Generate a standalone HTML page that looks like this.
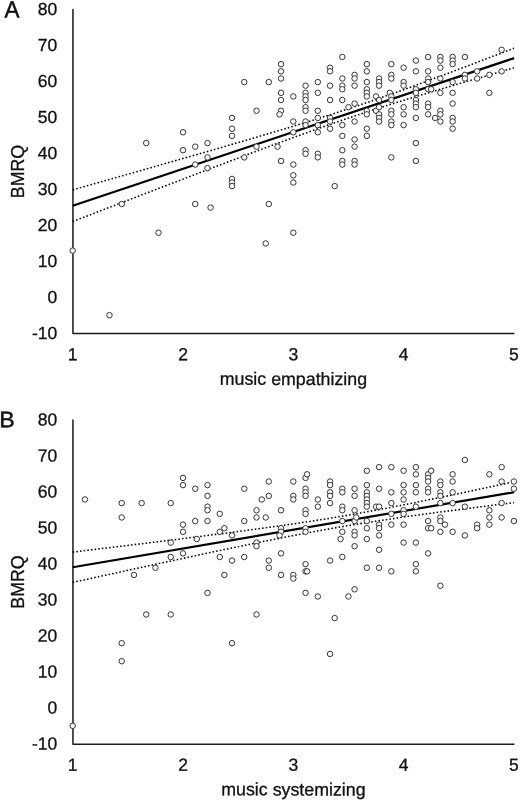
<!DOCTYPE html>
<html><head><meta charset="utf-8"><title>BMRQ scatter plots</title>
<style>
html,body{margin:0;padding:0;background:#fff}
svg{display:block}
.t{font-family:"Liberation Sans",Arial,sans-serif;font-size:17.5px;fill:#111;stroke:#111;stroke-width:0.3}
.L{font-family:"Liberation Sans",Arial,sans-serif;font-size:22.5px;fill:#111;stroke:#111;stroke-width:0.45}
circle{fill:#f9f9f9;stroke:#383838;stroke-width:1}
.s{stroke:#000;stroke-width:2.2;fill:none}
.d{stroke:#000;stroke-width:1.55;fill:none;stroke-dasharray:1.55 2.12}
</style></head><body>
<svg width="520" height="800" viewBox="0 0 520 800">
<rect width="520" height="800" fill="#fff"/>
<path d="M72.95 9.10V333.40H514.4" fill="none" stroke="#1a1a1a" stroke-width="1.5" stroke-linejoin="round"/>
<text transform="translate(57.3 339.10) rotate(0.05)" text-anchor="end" class="t">-10</text>
<text transform="translate(57.3 303.10) rotate(0.05)" text-anchor="end" class="t">0</text>
<text transform="translate(57.3 267.10) rotate(0.05)" text-anchor="end" class="t">10</text>
<text transform="translate(57.3 231.10) rotate(0.05)" text-anchor="end" class="t">20</text>
<text transform="translate(57.3 195.10) rotate(0.05)" text-anchor="end" class="t">30</text>
<text transform="translate(57.3 159.10) rotate(0.05)" text-anchor="end" class="t">40</text>
<text transform="translate(57.3 123.10) rotate(0.05)" text-anchor="end" class="t">50</text>
<text transform="translate(57.3 87.10) rotate(0.05)" text-anchor="end" class="t">60</text>
<text transform="translate(57.3 51.10) rotate(0.05)" text-anchor="end" class="t">70</text>
<text transform="translate(57.3 15.10) rotate(0.05)" text-anchor="end" class="t">80</text>
<text transform="translate(72.70 360.20) rotate(0.05)" text-anchor="middle" class="t">1</text>
<text transform="translate(183.00 360.20) rotate(0.05)" text-anchor="middle" class="t">2</text>
<text transform="translate(293.30 360.20) rotate(0.05)" text-anchor="middle" class="t">3</text>
<text transform="translate(403.60 360.20) rotate(0.05)" text-anchor="middle" class="t">4</text>
<text transform="translate(513.90 360.20) rotate(0.05)" text-anchor="middle" class="t">5</text>
<text transform="translate(293.4 384.90) rotate(0.05)" text-anchor="middle" class="t" style="font-size:17.8px">music empathizing</text>
<text transform="translate(24.2 171.50) rotate(-90)" text-anchor="middle" class="t" style="font-size:17.8px">BMRQ</text>
<text transform="translate(4.4 17.45) rotate(0.05) scale(1 1.05)" class="L">A</text>
<polyline points="72.70 189.87 78.22 188.31 83.73 186.75 89.24 185.18 94.76 183.62 100.28 182.06 105.79 180.49 111.31 178.93 116.82 177.36 122.33 175.80 127.85 174.23 133.37 172.66 138.88 171.09 144.39 169.52 149.91 167.95 155.43 166.38 160.94 164.81 166.46 163.23 171.97 161.66 177.49 160.08 183.00 158.50 188.51 156.92 194.03 155.34 199.54 153.75 205.06 152.17 210.57 150.58 216.09 148.99 221.61 147.39 227.12 145.79 232.63 144.19 238.15 142.59 243.66 140.98 249.18 139.37 254.69 137.75 260.21 136.13 265.73 134.50 271.24 132.86 276.75 131.22 282.27 129.57 287.79 127.91 293.30 126.24 298.81 124.56 304.33 122.87 309.84 121.17 315.36 119.45 320.88 117.72 326.39 115.97 331.90 114.21 337.42 112.43 342.94 110.63 348.45 108.82 353.96 106.98 359.48 105.13 364.99 103.25 370.51 101.36 376.02 99.45 381.54 97.52 387.06 95.58 392.57 93.62 398.08 91.65 403.60 89.66 409.11 87.66 414.63 85.65 420.15 83.63 425.66 81.60 431.17 79.56 436.69 77.51 442.20 75.46 447.72 73.40 453.24 71.33 458.75 69.26 464.26 67.18 469.78 65.10 475.30 63.01 480.81 60.92 486.32 58.83 491.84 56.74 497.35 54.64 502.87 52.54 508.38 50.43 513.90 48.33" class="d"/>
<polyline points="72.70 221.53 78.22 219.40 83.73 217.27 89.24 215.15 94.76 213.02 100.28 210.89 105.79 208.77 111.31 206.64 116.82 204.52 122.33 202.39 127.85 200.27 133.37 198.15 138.88 196.03 144.39 193.91 149.91 191.79 155.43 189.67 160.94 187.55 166.46 185.44 171.97 183.32 177.49 181.21 183.00 179.10 188.51 176.99 194.03 174.88 199.54 172.78 205.06 170.67 210.57 168.57 216.09 166.47 221.61 164.38 227.12 162.29 232.63 160.20 238.15 158.11 243.66 156.03 249.18 153.95 254.69 151.88 260.21 149.81 265.73 147.75 271.24 145.70 276.75 143.65 282.27 141.61 287.79 139.58 293.30 137.56 298.81 135.55 304.33 133.55 309.84 131.56 315.36 129.59 320.88 127.63 326.39 125.69 331.90 123.76 337.42 121.85 342.94 119.96 348.45 118.08 353.96 116.23 359.48 114.39 364.99 112.58 370.51 110.78 376.02 109.00 381.54 107.24 387.06 105.49 392.57 103.76 398.08 102.04 403.60 100.34 409.11 98.65 414.63 96.97 420.15 95.30 425.66 93.64 431.17 91.99 436.69 90.35 442.20 88.71 447.72 87.08 453.24 85.46 458.75 83.84 464.26 82.23 469.78 80.62 475.30 79.02 480.81 77.42 486.32 75.82 491.84 74.22 497.35 72.63 502.87 71.04 508.38 69.46 513.90 67.87" class="d"/>
<line x1="72.70" y1="205.70" x2="514.20" y2="58.10" class="s"/>
<circle cx="72.70" cy="250.63" r="2.75"/>
<circle cx="109.47" cy="315.19" r="2.75"/>
<circle cx="121.72" cy="204.01" r="2.75"/>
<circle cx="146.23" cy="143.04" r="2.75"/>
<circle cx="158.49" cy="232.70" r="2.75"/>
<circle cx="183.00" cy="132.28" r="2.75"/>
<circle cx="183.00" cy="150.21" r="2.75"/>
<circle cx="195.26" cy="146.63" r="2.75"/>
<circle cx="195.26" cy="164.56" r="2.75"/>
<circle cx="195.26" cy="204.01" r="2.75"/>
<circle cx="207.51" cy="143.04" r="2.75"/>
<circle cx="207.51" cy="157.39" r="2.75"/>
<circle cx="207.51" cy="168.15" r="2.75"/>
<circle cx="210.57" cy="207.60" r="2.75"/>
<circle cx="232.02" cy="117.94" r="2.75"/>
<circle cx="232.02" cy="128.70" r="2.75"/>
<circle cx="232.02" cy="135.87" r="2.75"/>
<circle cx="232.02" cy="178.91" r="2.75"/>
<circle cx="232.02" cy="182.49" r="2.75"/>
<circle cx="232.02" cy="186.08" r="2.75"/>
<circle cx="244.28" cy="82.07" r="2.75"/>
<circle cx="244.28" cy="157.39" r="2.75"/>
<circle cx="256.53" cy="110.77" r="2.75"/>
<circle cx="256.53" cy="146.63" r="2.75"/>
<circle cx="265.73" cy="243.46" r="2.75"/>
<circle cx="268.79" cy="82.07" r="2.75"/>
<circle cx="268.79" cy="204.01" r="2.75"/>
<circle cx="277.53" cy="146.63" r="2.75"/>
<circle cx="281.04" cy="64.14" r="2.75"/>
<circle cx="281.04" cy="71.32" r="2.75"/>
<circle cx="281.04" cy="78.49" r="2.75"/>
<circle cx="281.04" cy="92.83" r="2.75"/>
<circle cx="281.04" cy="100.01" r="2.75"/>
<circle cx="281.04" cy="110.77" r="2.75"/>
<circle cx="281.04" cy="160.97" r="2.75"/>
<circle cx="279.51" cy="114.35" r="2.75"/>
<circle cx="293.30" cy="96.42" r="2.75"/>
<circle cx="293.30" cy="121.52" r="2.75"/>
<circle cx="293.30" cy="132.28" r="2.75"/>
<circle cx="293.30" cy="164.56" r="2.75"/>
<circle cx="293.30" cy="175.32" r="2.75"/>
<circle cx="293.30" cy="182.49" r="2.75"/>
<circle cx="293.30" cy="232.70" r="2.75"/>
<circle cx="305.56" cy="85.66" r="2.75"/>
<circle cx="305.56" cy="92.83" r="2.75"/>
<circle cx="305.56" cy="96.42" r="2.75"/>
<circle cx="305.56" cy="100.01" r="2.75"/>
<circle cx="305.56" cy="107.18" r="2.75"/>
<circle cx="305.56" cy="110.77" r="2.75"/>
<circle cx="305.56" cy="121.52" r="2.75"/>
<circle cx="305.56" cy="125.11" r="2.75"/>
<circle cx="305.56" cy="150.21" r="2.75"/>
<circle cx="305.56" cy="153.80" r="2.75"/>
<circle cx="317.81" cy="82.07" r="2.75"/>
<circle cx="317.81" cy="92.83" r="2.75"/>
<circle cx="317.81" cy="110.77" r="2.75"/>
<circle cx="317.81" cy="117.94" r="2.75"/>
<circle cx="317.81" cy="125.11" r="2.75"/>
<circle cx="317.81" cy="132.28" r="2.75"/>
<circle cx="317.81" cy="153.80" r="2.75"/>
<circle cx="317.81" cy="157.39" r="2.75"/>
<circle cx="330.07" cy="67.73" r="2.75"/>
<circle cx="330.07" cy="71.32" r="2.75"/>
<circle cx="330.07" cy="85.66" r="2.75"/>
<circle cx="330.07" cy="100.01" r="2.75"/>
<circle cx="330.07" cy="117.94" r="2.75"/>
<circle cx="330.07" cy="121.52" r="2.75"/>
<circle cx="330.07" cy="128.70" r="2.75"/>
<circle cx="334.66" cy="186.08" r="2.75"/>
<circle cx="342.32" cy="56.97" r="2.75"/>
<circle cx="342.32" cy="78.49" r="2.75"/>
<circle cx="342.32" cy="85.66" r="2.75"/>
<circle cx="342.32" cy="89.25" r="2.75"/>
<circle cx="342.32" cy="100.01" r="2.75"/>
<circle cx="342.32" cy="125.11" r="2.75"/>
<circle cx="342.32" cy="135.87" r="2.75"/>
<circle cx="342.32" cy="150.21" r="2.75"/>
<circle cx="342.32" cy="160.97" r="2.75"/>
<circle cx="342.32" cy="164.56" r="2.75"/>
<circle cx="348.45" cy="107.18" r="2.75"/>
<circle cx="354.58" cy="74.90" r="2.75"/>
<circle cx="354.58" cy="78.49" r="2.75"/>
<circle cx="354.58" cy="85.66" r="2.75"/>
<circle cx="354.58" cy="103.59" r="2.75"/>
<circle cx="354.58" cy="121.52" r="2.75"/>
<circle cx="354.58" cy="139.46" r="2.75"/>
<circle cx="354.58" cy="146.63" r="2.75"/>
<circle cx="354.58" cy="160.97" r="2.75"/>
<circle cx="354.58" cy="164.56" r="2.75"/>
<circle cx="366.83" cy="64.14" r="2.75"/>
<circle cx="366.83" cy="71.32" r="2.75"/>
<circle cx="366.83" cy="82.07" r="2.75"/>
<circle cx="366.83" cy="89.25" r="2.75"/>
<circle cx="366.83" cy="92.83" r="2.75"/>
<circle cx="366.83" cy="96.42" r="2.75"/>
<circle cx="366.83" cy="110.77" r="2.75"/>
<circle cx="366.83" cy="114.35" r="2.75"/>
<circle cx="366.83" cy="128.70" r="2.75"/>
<circle cx="366.83" cy="135.87" r="2.75"/>
<circle cx="376.02" cy="96.42" r="2.75"/>
<circle cx="376.02" cy="110.77" r="2.75"/>
<circle cx="379.09" cy="78.49" r="2.75"/>
<circle cx="379.09" cy="82.07" r="2.75"/>
<circle cx="379.09" cy="85.66" r="2.75"/>
<circle cx="379.09" cy="100.01" r="2.75"/>
<circle cx="379.09" cy="107.18" r="2.75"/>
<circle cx="379.09" cy="114.35" r="2.75"/>
<circle cx="379.09" cy="117.94" r="2.75"/>
<circle cx="379.09" cy="121.52" r="2.75"/>
<circle cx="389.81" cy="92.83" r="2.75"/>
<circle cx="391.34" cy="64.14" r="2.75"/>
<circle cx="391.34" cy="74.90" r="2.75"/>
<circle cx="391.34" cy="78.49" r="2.75"/>
<circle cx="391.34" cy="96.42" r="2.75"/>
<circle cx="391.34" cy="100.01" r="2.75"/>
<circle cx="391.34" cy="110.77" r="2.75"/>
<circle cx="391.34" cy="114.35" r="2.75"/>
<circle cx="391.34" cy="121.52" r="2.75"/>
<circle cx="391.34" cy="125.11" r="2.75"/>
<circle cx="391.34" cy="157.39" r="2.75"/>
<circle cx="403.60" cy="67.73" r="2.75"/>
<circle cx="403.60" cy="82.07" r="2.75"/>
<circle cx="403.60" cy="85.66" r="2.75"/>
<circle cx="403.60" cy="107.18" r="2.75"/>
<circle cx="403.60" cy="114.35" r="2.75"/>
<circle cx="403.60" cy="125.11" r="2.75"/>
<circle cx="415.86" cy="60.56" r="2.75"/>
<circle cx="415.86" cy="71.32" r="2.75"/>
<circle cx="415.86" cy="89.25" r="2.75"/>
<circle cx="415.86" cy="92.83" r="2.75"/>
<circle cx="415.86" cy="100.01" r="2.75"/>
<circle cx="415.86" cy="103.59" r="2.75"/>
<circle cx="415.86" cy="107.18" r="2.75"/>
<circle cx="415.86" cy="117.94" r="2.75"/>
<circle cx="415.86" cy="143.04" r="2.75"/>
<circle cx="415.86" cy="160.97" r="2.75"/>
<circle cx="428.11" cy="56.97" r="2.75"/>
<circle cx="428.11" cy="71.32" r="2.75"/>
<circle cx="428.11" cy="78.49" r="2.75"/>
<circle cx="428.11" cy="82.07" r="2.75"/>
<circle cx="428.11" cy="89.25" r="2.75"/>
<circle cx="428.11" cy="103.59" r="2.75"/>
<circle cx="428.11" cy="107.18" r="2.75"/>
<circle cx="428.11" cy="114.35" r="2.75"/>
<circle cx="431.17" cy="89.25" r="2.75"/>
<circle cx="435.15" cy="117.94" r="2.75"/>
<circle cx="440.37" cy="56.97" r="2.75"/>
<circle cx="440.37" cy="60.56" r="2.75"/>
<circle cx="440.37" cy="67.73" r="2.75"/>
<circle cx="440.37" cy="78.49" r="2.75"/>
<circle cx="440.37" cy="92.83" r="2.75"/>
<circle cx="440.37" cy="110.77" r="2.75"/>
<circle cx="440.37" cy="114.35" r="2.75"/>
<circle cx="440.37" cy="121.52" r="2.75"/>
<circle cx="452.62" cy="56.97" r="2.75"/>
<circle cx="452.62" cy="60.56" r="2.75"/>
<circle cx="452.62" cy="64.14" r="2.75"/>
<circle cx="452.62" cy="82.07" r="2.75"/>
<circle cx="452.62" cy="92.83" r="2.75"/>
<circle cx="452.62" cy="103.59" r="2.75"/>
<circle cx="452.62" cy="117.94" r="2.75"/>
<circle cx="452.62" cy="121.52" r="2.75"/>
<circle cx="452.62" cy="128.70" r="2.75"/>
<circle cx="464.88" cy="56.97" r="2.75"/>
<circle cx="464.88" cy="74.90" r="2.75"/>
<circle cx="464.88" cy="78.49" r="2.75"/>
<circle cx="477.13" cy="71.32" r="2.75"/>
<circle cx="477.13" cy="78.49" r="2.75"/>
<circle cx="489.39" cy="74.90" r="2.75"/>
<circle cx="489.39" cy="92.83" r="2.75"/>
<circle cx="501.64" cy="49.80" r="2.75"/>
<circle cx="501.64" cy="71.32" r="2.75"/>
<path d="M72.95 419.60V744.35H514.4" fill="none" stroke="#1a1a1a" stroke-width="1.5" stroke-linejoin="round"/>
<text transform="translate(57.3 749.60) rotate(0.05)" text-anchor="end" class="t">-10</text>
<text transform="translate(57.3 713.60) rotate(0.05)" text-anchor="end" class="t">0</text>
<text transform="translate(57.3 677.60) rotate(0.05)" text-anchor="end" class="t">10</text>
<text transform="translate(57.3 641.60) rotate(0.05)" text-anchor="end" class="t">20</text>
<text transform="translate(57.3 605.60) rotate(0.05)" text-anchor="end" class="t">30</text>
<text transform="translate(57.3 569.60) rotate(0.05)" text-anchor="end" class="t">40</text>
<text transform="translate(57.3 533.60) rotate(0.05)" text-anchor="end" class="t">50</text>
<text transform="translate(57.3 497.60) rotate(0.05)" text-anchor="end" class="t">60</text>
<text transform="translate(57.3 461.60) rotate(0.05)" text-anchor="end" class="t">70</text>
<text transform="translate(57.3 425.60) rotate(0.05)" text-anchor="end" class="t">80</text>
<text transform="translate(72.70 770.70) rotate(0.05)" text-anchor="middle" class="t">1</text>
<text transform="translate(183.00 770.70) rotate(0.05)" text-anchor="middle" class="t">2</text>
<text transform="translate(293.30 770.70) rotate(0.05)" text-anchor="middle" class="t">3</text>
<text transform="translate(403.60 770.70) rotate(0.05)" text-anchor="middle" class="t">4</text>
<text transform="translate(513.90 770.70) rotate(0.05)" text-anchor="middle" class="t">5</text>
<text transform="translate(293.4 795.40) rotate(0.05)" text-anchor="middle" class="t" style="font-size:17.8px">music systemizing</text>
<text transform="translate(24.2 582.00) rotate(-90)" text-anchor="middle" class="t" style="font-size:17.8px">BMRQ</text>
<text transform="translate(-0.8 427.15) rotate(0.05) scale(1.03 1)" class="L">B</text>
<polyline points="72.70 552.09 78.22 551.43 83.73 550.76 89.24 550.09 94.76 549.42 100.28 548.76 105.79 548.09 111.31 547.42 116.82 546.74 122.33 546.07 127.85 545.40 133.37 544.72 138.88 544.05 144.39 543.37 149.91 542.69 155.43 542.01 160.94 541.33 166.46 540.64 171.97 539.96 177.49 539.27 183.00 538.58 188.51 537.89 194.03 537.19 199.54 536.50 205.06 535.80 210.57 535.09 216.09 534.38 221.61 533.67 227.12 532.96 232.63 532.24 238.15 531.51 243.66 530.79 249.18 530.05 254.69 529.31 260.21 528.56 265.73 527.80 271.24 527.04 276.75 526.27 282.27 525.49 287.79 524.70 293.30 523.89 298.81 523.08 304.33 522.25 309.84 521.41 315.36 520.56 320.88 519.69 326.39 518.81 331.90 517.91 337.42 517.00 342.94 516.07 348.45 515.13 353.96 514.16 359.48 513.19 364.99 512.19 370.51 511.18 376.02 510.16 381.54 509.12 387.06 508.08 392.57 507.01 398.08 505.94 403.60 504.86 409.11 503.76 414.63 502.66 420.15 501.55 425.66 500.43 431.17 499.30 436.69 498.16 442.20 497.02 447.72 495.88 453.24 494.73 458.75 493.57 464.26 492.41 469.78 491.25 475.30 490.08 480.81 488.91 486.32 487.73 491.84 486.55 497.35 485.37 502.87 484.19 508.38 483.00 513.90 481.82" class="d"/>
<polyline points="72.70 582.39 78.22 581.18 83.73 579.97 89.24 578.76 94.76 577.55 100.28 576.35 105.79 575.14 111.31 573.93 116.82 572.73 122.33 571.53 127.85 570.33 133.37 569.12 138.88 567.93 144.39 566.73 149.91 565.53 155.43 564.34 160.94 563.14 166.46 561.95 171.97 560.76 177.49 559.57 183.00 558.39 188.51 557.20 194.03 556.02 199.54 554.84 205.06 553.67 210.57 552.50 216.09 551.33 221.61 550.16 227.12 549.00 232.63 547.85 238.15 546.70 243.66 545.55 249.18 544.41 254.69 543.28 260.21 542.15 265.73 541.03 271.24 539.92 276.75 538.81 282.27 537.72 287.79 536.64 293.30 535.56 298.81 534.50 304.33 533.45 309.84 532.41 315.36 531.39 320.88 530.38 326.39 529.39 331.90 528.41 337.42 527.45 342.94 526.50 348.45 525.57 353.96 524.66 359.48 523.76 364.99 522.88 370.51 522.01 376.02 521.16 381.54 520.32 387.06 519.50 392.57 518.68 398.08 517.88 403.60 517.09 409.11 516.31 414.63 515.53 420.15 514.77 425.66 514.02 431.17 513.27 436.69 512.53 442.20 511.79 447.72 511.06 453.24 510.34 458.75 509.62 464.26 508.90 469.78 508.19 475.30 507.48 480.81 506.78 486.32 506.08 491.84 505.38 497.35 504.69 502.87 503.99 508.38 503.30 513.90 502.62" class="d"/>
<line x1="72.70" y1="567.24" x2="514.20" y2="492.22" class="s"/>
<circle cx="72.70" cy="725.83" r="2.75"/>
<circle cx="84.96" cy="499.49" r="2.75"/>
<circle cx="121.72" cy="503.08" r="2.75"/>
<circle cx="121.72" cy="517.45" r="2.75"/>
<circle cx="121.72" cy="643.20" r="2.75"/>
<circle cx="121.72" cy="661.16" r="2.75"/>
<circle cx="133.98" cy="574.94" r="2.75"/>
<circle cx="141.64" cy="503.08" r="2.75"/>
<circle cx="146.23" cy="614.46" r="2.75"/>
<circle cx="155.43" cy="567.75" r="2.75"/>
<circle cx="170.74" cy="503.08" r="2.75"/>
<circle cx="170.74" cy="542.60" r="2.75"/>
<circle cx="170.74" cy="556.97" r="2.75"/>
<circle cx="170.74" cy="614.46" r="2.75"/>
<circle cx="183.00" cy="477.93" r="2.75"/>
<circle cx="183.00" cy="485.12" r="2.75"/>
<circle cx="183.00" cy="524.64" r="2.75"/>
<circle cx="183.00" cy="531.82" r="2.75"/>
<circle cx="183.00" cy="553.38" r="2.75"/>
<circle cx="195.26" cy="488.71" r="2.75"/>
<circle cx="195.26" cy="521.04" r="2.75"/>
<circle cx="196.79" cy="539.01" r="2.75"/>
<circle cx="207.51" cy="485.12" r="2.75"/>
<circle cx="207.51" cy="495.90" r="2.75"/>
<circle cx="207.51" cy="506.67" r="2.75"/>
<circle cx="207.51" cy="510.27" r="2.75"/>
<circle cx="207.51" cy="521.04" r="2.75"/>
<circle cx="207.51" cy="592.90" r="2.75"/>
<circle cx="219.77" cy="513.86" r="2.75"/>
<circle cx="219.77" cy="531.82" r="2.75"/>
<circle cx="219.77" cy="556.97" r="2.75"/>
<circle cx="224.36" cy="528.23" r="2.75"/>
<circle cx="224.36" cy="574.94" r="2.75"/>
<circle cx="232.02" cy="535.42" r="2.75"/>
<circle cx="232.02" cy="560.57" r="2.75"/>
<circle cx="232.02" cy="643.20" r="2.75"/>
<circle cx="244.28" cy="488.71" r="2.75"/>
<circle cx="244.28" cy="521.04" r="2.75"/>
<circle cx="244.28" cy="556.97" r="2.75"/>
<circle cx="256.53" cy="510.27" r="2.75"/>
<circle cx="256.53" cy="517.45" r="2.75"/>
<circle cx="256.53" cy="542.60" r="2.75"/>
<circle cx="256.53" cy="546.19" r="2.75"/>
<circle cx="256.53" cy="614.46" r="2.75"/>
<circle cx="261.75" cy="499.49" r="2.75"/>
<circle cx="265.73" cy="517.45" r="2.75"/>
<circle cx="268.79" cy="481.52" r="2.75"/>
<circle cx="268.79" cy="495.90" r="2.75"/>
<circle cx="268.79" cy="560.57" r="2.75"/>
<circle cx="268.79" cy="567.75" r="2.75"/>
<circle cx="281.04" cy="510.27" r="2.75"/>
<circle cx="281.04" cy="528.23" r="2.75"/>
<circle cx="281.04" cy="531.82" r="2.75"/>
<circle cx="281.04" cy="553.38" r="2.75"/>
<circle cx="281.04" cy="574.94" r="2.75"/>
<circle cx="279.51" cy="535.42" r="2.75"/>
<circle cx="293.30" cy="481.52" r="2.75"/>
<circle cx="293.30" cy="495.90" r="2.75"/>
<circle cx="293.30" cy="499.49" r="2.75"/>
<circle cx="293.30" cy="574.94" r="2.75"/>
<circle cx="293.30" cy="578.53" r="2.75"/>
<circle cx="305.56" cy="477.93" r="2.75"/>
<circle cx="305.56" cy="488.71" r="2.75"/>
<circle cx="305.56" cy="492.30" r="2.75"/>
<circle cx="305.56" cy="495.90" r="2.75"/>
<circle cx="305.56" cy="510.27" r="2.75"/>
<circle cx="305.56" cy="513.86" r="2.75"/>
<circle cx="305.56" cy="528.23" r="2.75"/>
<circle cx="305.56" cy="531.82" r="2.75"/>
<circle cx="305.56" cy="564.16" r="2.75"/>
<circle cx="305.56" cy="571.34" r="2.75"/>
<circle cx="305.56" cy="592.90" r="2.75"/>
<circle cx="307.09" cy="474.34" r="2.75"/>
<circle cx="307.09" cy="571.34" r="2.75"/>
<circle cx="317.81" cy="499.49" r="2.75"/>
<circle cx="317.81" cy="506.67" r="2.75"/>
<circle cx="317.81" cy="596.49" r="2.75"/>
<circle cx="330.07" cy="481.52" r="2.75"/>
<circle cx="330.07" cy="485.12" r="2.75"/>
<circle cx="330.07" cy="492.30" r="2.75"/>
<circle cx="330.07" cy="495.90" r="2.75"/>
<circle cx="330.07" cy="503.08" r="2.75"/>
<circle cx="330.07" cy="560.57" r="2.75"/>
<circle cx="330.07" cy="653.98" r="2.75"/>
<circle cx="334.66" cy="618.05" r="2.75"/>
<circle cx="342.32" cy="488.71" r="2.75"/>
<circle cx="342.32" cy="492.30" r="2.75"/>
<circle cx="342.32" cy="506.67" r="2.75"/>
<circle cx="342.32" cy="510.27" r="2.75"/>
<circle cx="342.32" cy="521.04" r="2.75"/>
<circle cx="342.32" cy="531.82" r="2.75"/>
<circle cx="342.32" cy="556.97" r="2.75"/>
<circle cx="340.57" cy="539.01" r="2.75"/>
<circle cx="348.45" cy="596.49" r="2.75"/>
<circle cx="354.58" cy="488.71" r="2.75"/>
<circle cx="354.58" cy="495.90" r="2.75"/>
<circle cx="354.58" cy="510.27" r="2.75"/>
<circle cx="354.58" cy="521.04" r="2.75"/>
<circle cx="354.58" cy="531.82" r="2.75"/>
<circle cx="354.58" cy="535.42" r="2.75"/>
<circle cx="354.58" cy="546.19" r="2.75"/>
<circle cx="354.58" cy="589.31" r="2.75"/>
<circle cx="356.28" cy="517.45" r="2.75"/>
<circle cx="366.83" cy="470.75" r="2.75"/>
<circle cx="366.83" cy="485.12" r="2.75"/>
<circle cx="366.83" cy="492.30" r="2.75"/>
<circle cx="366.83" cy="495.90" r="2.75"/>
<circle cx="366.83" cy="499.49" r="2.75"/>
<circle cx="366.83" cy="503.08" r="2.75"/>
<circle cx="366.83" cy="506.67" r="2.75"/>
<circle cx="366.83" cy="521.04" r="2.75"/>
<circle cx="366.83" cy="528.23" r="2.75"/>
<circle cx="366.83" cy="539.01" r="2.75"/>
<circle cx="366.83" cy="567.75" r="2.75"/>
<circle cx="376.02" cy="506.67" r="2.75"/>
<circle cx="379.09" cy="467.15" r="2.75"/>
<circle cx="379.09" cy="488.71" r="2.75"/>
<circle cx="379.09" cy="506.67" r="2.75"/>
<circle cx="379.09" cy="524.64" r="2.75"/>
<circle cx="379.09" cy="528.23" r="2.75"/>
<circle cx="379.09" cy="535.42" r="2.75"/>
<circle cx="379.09" cy="549.79" r="2.75"/>
<circle cx="379.09" cy="567.75" r="2.75"/>
<circle cx="391.34" cy="467.15" r="2.75"/>
<circle cx="391.34" cy="492.30" r="2.75"/>
<circle cx="391.34" cy="503.08" r="2.75"/>
<circle cx="391.34" cy="513.86" r="2.75"/>
<circle cx="391.34" cy="524.64" r="2.75"/>
<circle cx="391.34" cy="571.34" r="2.75"/>
<circle cx="403.60" cy="470.75" r="2.75"/>
<circle cx="403.60" cy="485.12" r="2.75"/>
<circle cx="403.60" cy="492.30" r="2.75"/>
<circle cx="403.60" cy="499.49" r="2.75"/>
<circle cx="403.60" cy="510.27" r="2.75"/>
<circle cx="403.60" cy="513.86" r="2.75"/>
<circle cx="403.60" cy="524.64" r="2.75"/>
<circle cx="403.60" cy="542.60" r="2.75"/>
<circle cx="415.86" cy="467.15" r="2.75"/>
<circle cx="415.86" cy="474.34" r="2.75"/>
<circle cx="415.86" cy="485.12" r="2.75"/>
<circle cx="415.86" cy="492.30" r="2.75"/>
<circle cx="415.86" cy="506.67" r="2.75"/>
<circle cx="415.86" cy="542.60" r="2.75"/>
<circle cx="415.86" cy="564.16" r="2.75"/>
<circle cx="415.86" cy="571.34" r="2.75"/>
<circle cx="428.11" cy="474.34" r="2.75"/>
<circle cx="428.11" cy="477.93" r="2.75"/>
<circle cx="428.11" cy="481.52" r="2.75"/>
<circle cx="428.11" cy="488.71" r="2.75"/>
<circle cx="428.11" cy="492.30" r="2.75"/>
<circle cx="428.11" cy="521.04" r="2.75"/>
<circle cx="428.11" cy="528.23" r="2.75"/>
<circle cx="428.11" cy="553.38" r="2.75"/>
<circle cx="431.17" cy="470.75" r="2.75"/>
<circle cx="431.17" cy="528.23" r="2.75"/>
<circle cx="440.37" cy="481.52" r="2.75"/>
<circle cx="440.37" cy="485.12" r="2.75"/>
<circle cx="440.37" cy="492.30" r="2.75"/>
<circle cx="440.37" cy="495.90" r="2.75"/>
<circle cx="440.37" cy="503.08" r="2.75"/>
<circle cx="440.37" cy="517.45" r="2.75"/>
<circle cx="440.37" cy="521.04" r="2.75"/>
<circle cx="440.37" cy="531.82" r="2.75"/>
<circle cx="440.37" cy="585.72" r="2.75"/>
<circle cx="444.96" cy="524.64" r="2.75"/>
<circle cx="452.62" cy="474.34" r="2.75"/>
<circle cx="452.62" cy="481.52" r="2.75"/>
<circle cx="452.62" cy="492.30" r="2.75"/>
<circle cx="452.62" cy="503.08" r="2.75"/>
<circle cx="452.62" cy="531.82" r="2.75"/>
<circle cx="464.88" cy="459.97" r="2.75"/>
<circle cx="464.88" cy="506.67" r="2.75"/>
<circle cx="464.88" cy="535.42" r="2.75"/>
<circle cx="477.13" cy="524.64" r="2.75"/>
<circle cx="477.13" cy="528.23" r="2.75"/>
<circle cx="489.39" cy="474.34" r="2.75"/>
<circle cx="489.39" cy="510.27" r="2.75"/>
<circle cx="489.39" cy="517.45" r="2.75"/>
<circle cx="489.39" cy="524.64" r="2.75"/>
<circle cx="501.64" cy="467.15" r="2.75"/>
<circle cx="501.64" cy="481.52" r="2.75"/>
<circle cx="501.64" cy="503.08" r="2.75"/>
<circle cx="501.64" cy="517.45" r="2.75"/>
<circle cx="513.90" cy="481.52" r="2.75"/>
<circle cx="513.90" cy="488.71" r="2.75"/>
<circle cx="513.90" cy="521.04" r="2.75"/>
</svg></body></html>
